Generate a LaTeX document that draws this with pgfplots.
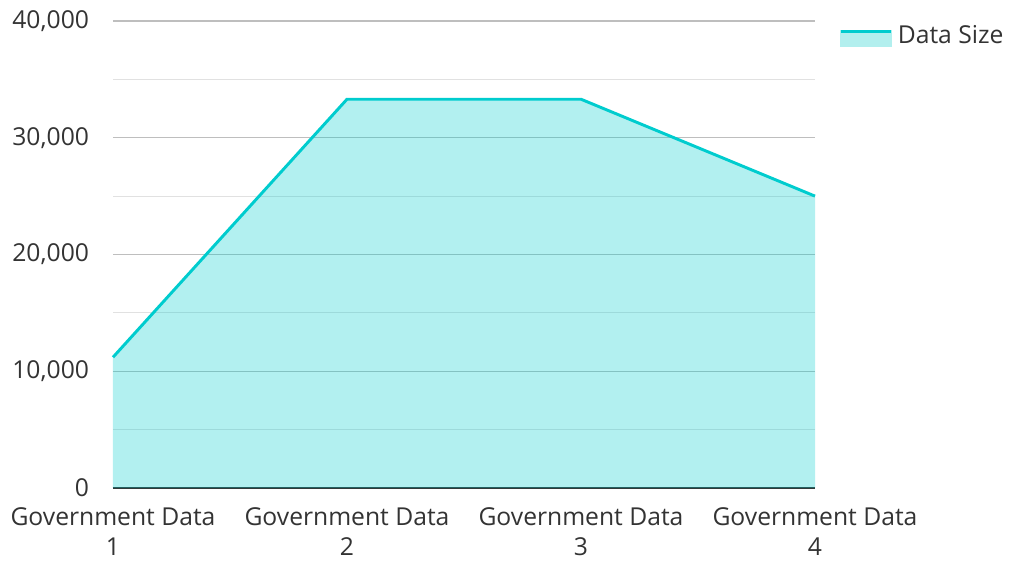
\documentclass[border=0pt]{standalone}
\usepackage{pgfplots}
\pgfplotsset{compat=1.18}
\usepackage{fontspec}
\setmainfont{Open Sans}
\definecolor{linec}{RGB}{0,204,206}
\definecolor{fillc}{RGB}{178,239,238}
\definecolor{majgrid}{RGB}{190,190,190}
\definecolor{mingrid}{RGB}{225,225,225}
\definecolor{txt}{RGB}{51,51,51}
\begin{document}
\begin{tikzpicture}
\path[use as bounding box] (-84.75pt,-54pt) rectangle (672pt,366pt);
\begin{axis}[
  scale only axis,
  width=526.5pt, height=350.25pt,
  at={(0,0)}, anchor=south west,
  xmin=0, xmax=3, ymin=0, ymax=40000,
  xtick={0,1,2,3},
  xticklabels={{Government Data\\1},{Government Data\\2},{Government Data\\3},{Government Data\\4}},
  xticklabel style={align=center, font=\fontsize{18.5pt}{22.5pt}\selectfont, text=txt, yshift=-11pt},
  ytick={0,10000,20000,30000,40000},
  minor ytick={5000,15000,25000,35000},
  yticklabel style={font=\fontsize{18.5pt}{22pt}\selectfont, text=txt, xshift=-14.5pt},
  /pgf/number format/1000 sep={,},
  /pgf/number format/assume math mode=true,
  scaled y ticks=false,
  ymajorgrids, yminorgrids,
  major grid style={majgrid, line width=0.8pt},
  minor grid style={mingrid, line width=0.8pt},
  axis x line*=bottom,
  axis y line*=left,
  y axis line style={draw=none},
  x axis line style={txt, line width=1.5pt, -},
  major tick length=0pt, minor tick length=0pt,
  xtick style={draw=none}, ytick style={draw=none},
  clip=false,
  legend style={at={(1.031,1.003)}, anchor=north west, draw=none, fill=none,
    font=\fontsize{18.5pt}{22pt}\selectfont, text=txt, inner sep=2pt},
  legend cell align=left,
]
\addplot[draw=none, fill=linec, fill opacity=0.3, forget plot] coordinates {(0,11200) (1,33300) (2,33300) (3,25000)} \closedcycle;
\addplot[linec, line width=2.2pt,
  legend image code/.code={
    \path[draw=none] (0pt,0pt) -- (40.5pt,0pt);
    \fill[fillc] (0pt,-7.5pt) rectangle (37pt,2.5pt);
    \draw[linec, line width=2.2pt] (0pt,2.5pt) -- (37pt,2.5pt);
  }] coordinates {(0,11200) (1,33300) (2,33300) (3,25000)};
\addlegendentry{Data Size}
\end{axis}
\end{tikzpicture}
\end{document}
